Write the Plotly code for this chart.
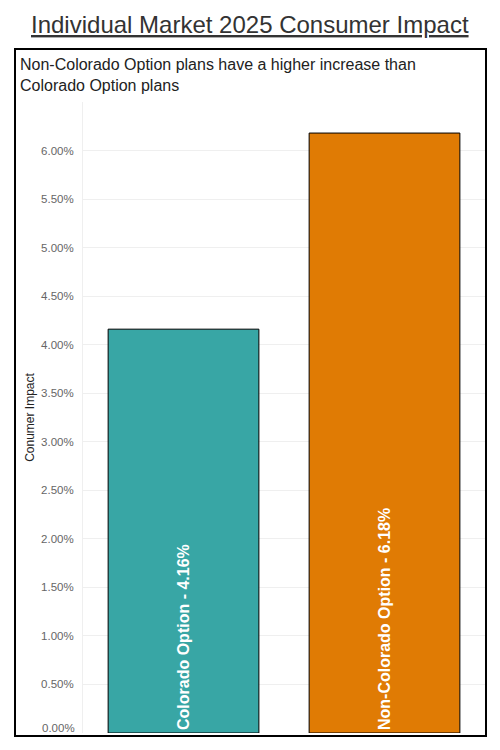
import plotly.graph_objects as go

categories = ["Colorado Option", "Non-Colorado Option"]
values = [4.16, 6.18]
colors = ["#38A6A5", "#E07B04"]
tick_vals = [0, 0.5, 1, 1.5, 2, 2.5, 3, 3.5, 4, 4.5, 5, 5.5, 6]
tick_text = [f"{v:.2f}%" for v in tick_vals]

# page body has an 8px margin: work in screen pixels and shift by 8
OFF = 8
W, H = 500 - OFF, 750 - OFF
L, T = 83 - OFF, 102 - OFF
R = W - (485 - OFF)
B = H - (733 - OFF)
pw, ph = W - L - R, H - T - B

def px_x(x):
    return (x - OFF - L) / pw

def px_y(y):
    return (H - B - (y - OFF)) / ph

fig = go.Figure()
fig.add_trace(go.Bar(
    x=categories,
    y=values,
    marker=dict(color=colors, line=dict(color="black", width=1)),
    width=0.75,
    texttemplate="%{x} - %{y:.2f}%",
    textposition="inside",
    insidetextanchor="start",
    textangle=-90,
    textfont=dict(color="white", size=16, family="Liberation Sans, Arial", weight="bold"),
    hoverinfo="skip",
))

# the bottom tick label is nudged up so it sits inside the frame
shown_text = [""] + tick_text[1:]

fig.update_layout(
    width=W, height=H,
    margin=dict(l=L, r=R, t=T, b=B),
    paper_bgcolor="white",
    plot_bgcolor="white",
    showlegend=False,
    font=dict(family="Liberation Sans, Arial"),
    xaxis=dict(showticklabels=False, showgrid=False, zeroline=False,
               range=[-0.5, 1.5], fixedrange=True),
    yaxis=dict(range=[0, 6.5], tickvals=tick_vals,
               ticktext=shown_text,
               tickfont=dict(size=11.5, color="#666666"),
               gridcolor="#EFEFEF", gridwidth=1,
               zeroline=False, showline=True, linecolor="#EFEFEF", linewidth=1,
               ticks="", ticklabelstandoff=6,
               title=dict(text="Conumer Impact", font=dict(size=12, color="#222222"),
                          standoff=3)),
    shapes=[dict(type="rect", xref="paper", yref="paper",
                 x0=px_x(15), x1=px_x(486), y0=px_y(736), y1=px_y(49),
                 line=dict(color="black", width=2), fillcolor="rgba(0,0,0,0)",
                 layer="above")],
    annotations=[
        dict(text="<u>Individual Market 2025 Consumer Impact</u>",
             xref="paper", yref="paper", x=px_x(250), y=px_y(25),
             xanchor="center", yanchor="middle", showarrow=False,
             font=dict(size=24, color="#333333")),
        dict(text="Non-Colorado Option plans have a higher increase than<br>Colorado Option plans",
             xref="paper", yref="paper", x=px_x(18), y=px_y(54),
             xanchor="left", yanchor="top", align="left", showarrow=False,
             font=dict(size=16, color="#222222")),
        dict(text=tick_text[0], xref="paper", yref="y", x=0, y=tick_vals[0],
             xanchor="right", yanchor="middle", xshift=-6, yshift=5,
             showarrow=False, font=dict(size=11.5, color="#666666")),
    ],
)

fig.write_html("out.html")
